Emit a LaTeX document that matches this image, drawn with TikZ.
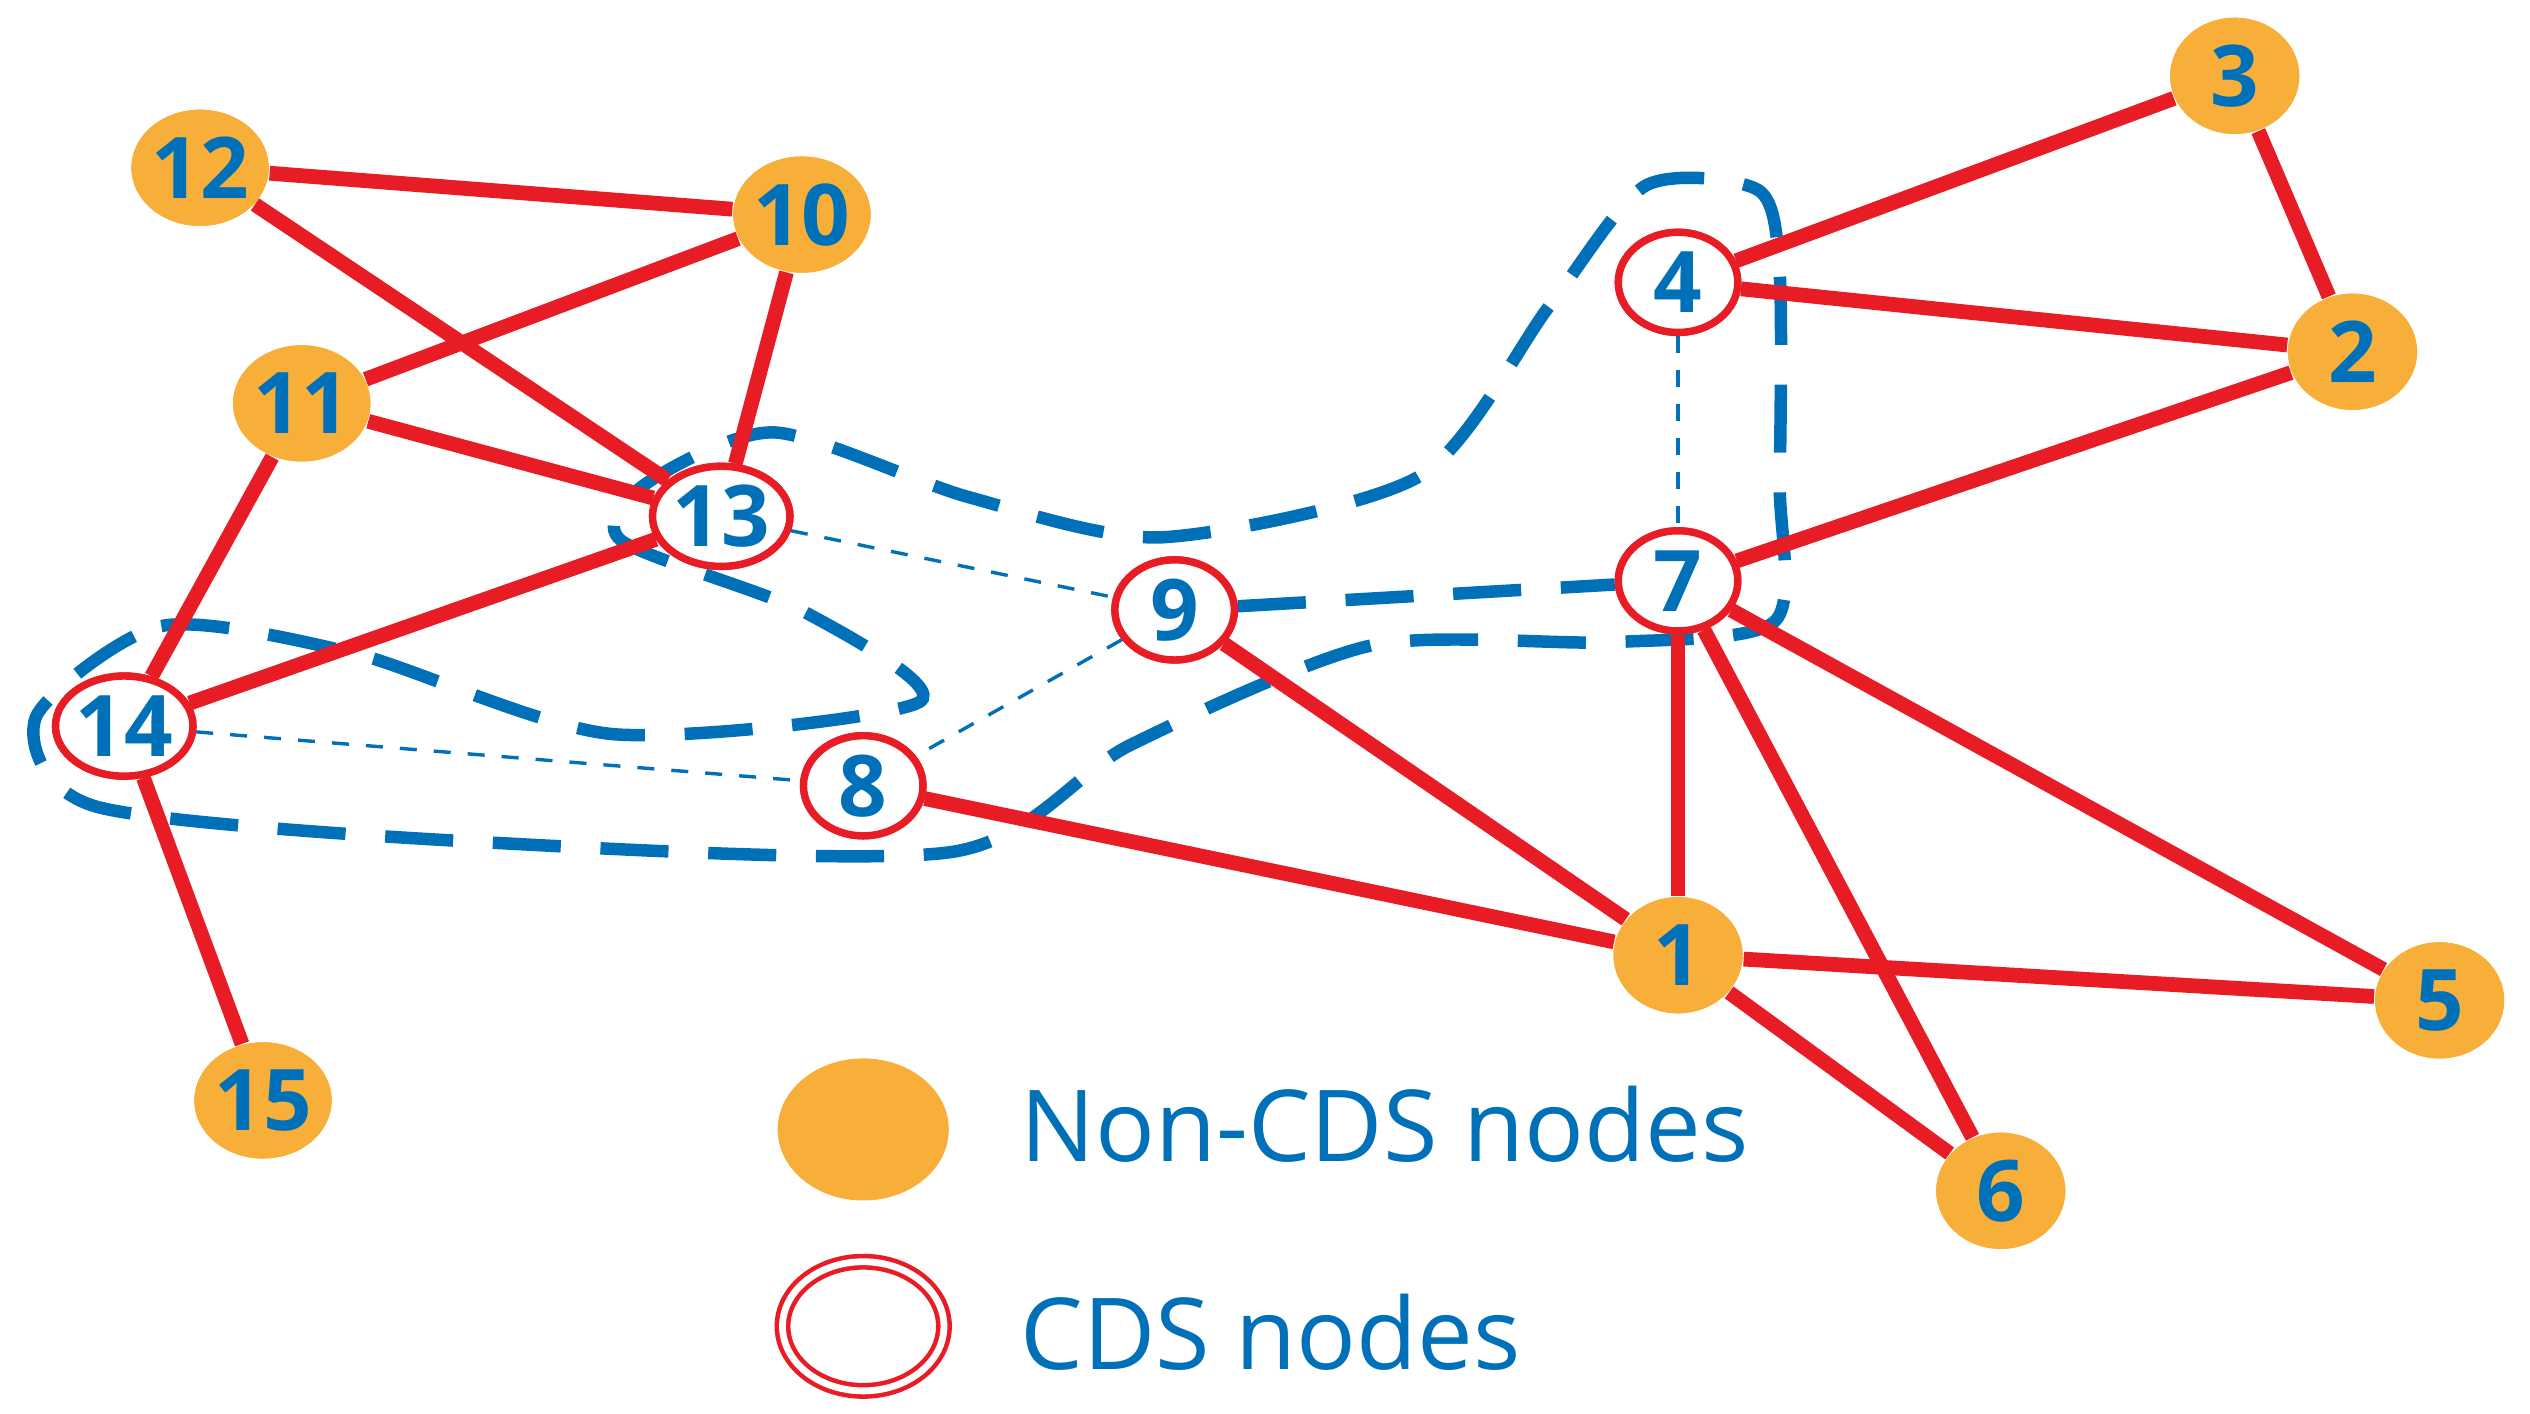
\documentclass[tikz,border=0pt]{standalone}
\usepackage{fontspec}
\setmainfont{Open Sans}
\usetikzlibrary{shapes.geometric}
\definecolor{org}{RGB}{247,175,58}
\definecolor{blu}{RGB}{0,112,184}
\definecolor{rd}{RGB}{232,28,36}
\begin{document}
\begin{tikzpicture}[x=0.01cm,y=-0.01cm,
 non/.style={ellipse,fill=org,minimum width=0.8cm,minimum height=0.72cm,inner sep=0pt,text=blu,font=\bfseries\fontsize{15}{15}\selectfont},
 cds/.style={ellipse,draw=rd,line width=1.3pt,fill=white,minimum width=0.74cm,minimum height=0.62cm,inner sep=0pt,text=blu,font=\bfseries\fontsize{15}{15}\selectfont},
 ed/.style={rd,line width=2.6pt},
 thin/.style={blu,dashed,line width=0.6pt},
 thick/.style={blu,line width=2.2pt,dash pattern=on 12pt off 7pt}]
\useasboundingbox (0,0) rectangle (1568,876);
\foreach \n/\x/\y in {1/1040/592,2/1458/218,3/1385/47,5/1512/620,6/1240/738,10/497/133,11/187/250,12/124/104,15/163/682}
  \node[non] (n\n) at (\x,\y) {\n};
\foreach \n/\x/\y in {4/1040/175,7/1040/360,8/535/487,9/728/378,13/447/320,14/77/450}
  \node[cds] (n\n) at (\x,\y) {\n};
% dashed boundary
\draw[thick] plot[smooth cycle,tension=0.45] coordinates {(22,445) (100,388) (220,405) (380,455) (570,435) (500,380) (385,335) (400,300) (480,268) (600,308) (720,333) (880,295) (960,190) (1020,115) (1090,118) (1103,170) (1103,300) (1100,385) (1000,398) (850,400) (700,462) (590,528) (300,522) (60,500)};
\draw[thick] (n9) -- (n7);
\foreach \a/\b in {4/7,13/9,9/8,14/8}
  \draw[thin] (n\a) -- (n\b);
\foreach \a/\b in {12/10,12/13,11/10,11/13,10/13,11/14,13/14,14/15,3/4,3/2,4/2,2/7,9/1,8/1,7/1,7/5,7/6,1/5,1/6}
  \draw[ed] (n\a) -- (n\b);
\foreach \n/\x/\y in {1/1040/592,2/1458/218,3/1385/47,5/1512/620,6/1240/738,10/497/133,11/187/250,12/124/104,15/163/682}
  \node[non] at (\x,\y) {\n};
\foreach \n/\x/\y in {4/1040/175,7/1040/360,8/535/487,9/728/378,13/447/320,14/77/450}
  \node[cds] at (\x,\y) {\n};
\node[ellipse,fill=org,minimum width=1.06cm,minimum height=0.88cm] (lg1) at (535,700) {};
\node[anchor=west,text=blu,font=\fontsize{17.5}{17.5}\selectfont] (lt1) at (620,697) {Non-CDS nodes};
\node[ellipse,draw=rd,double=white,double distance=1.2pt,line width=0.8pt,minimum width=1cm,minimum height=0.8cm] (lg2) at (535,822) {};
\node[anchor=west,text=blu,font=\fontsize{17.5}{17.5}\selectfont] (lt2) at (620,826) {CDS nodes};
\end{tikzpicture}
\end{document}
